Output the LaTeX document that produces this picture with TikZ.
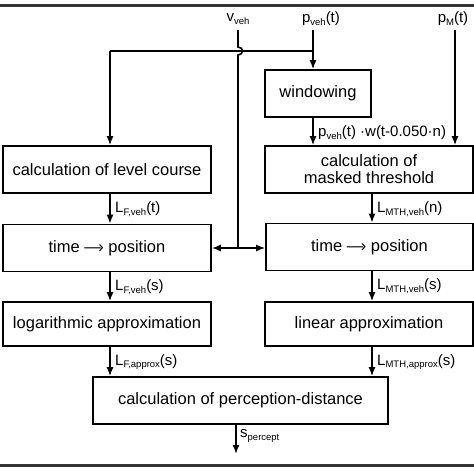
\documentclass[tikz,border=0pt]{standalone}
\usepackage{fontspec}
\setmainfont{Liberation Sans}
\usetikzlibrary{arrows.meta}
\newcommand\lsub[1]{\raisebox{-2.5pt}{\fontsize{9.5}{10}\selectfont #1}}
\begin{document}
\begin{tikzpicture}[x=1pt,y=-1pt,
  box/.style={draw,line width=1.6pt,inner sep=0pt,minimum height=47pt,align=center,font=\fontsize{16.5}{19}\selectfont},
  lab/.style={inner sep=0pt,anchor=west,font=\fontsize{15}{18}\selectfont},
  con/.style={line width=1.6pt,-{Latex[length=9pt,width=7pt]}},
  ln/.style={line width=1.6pt},
  frame/.style={line width=3pt,draw=black!80}]
\useasboundingbox (0,0) rectangle (474,474);
\draw[frame] (0,5) -- (474,5);
\draw[frame] (0,465) -- (474,465);
% boxes
\node[box,minimum width=106pt] (win) at (318,93.5) {windowing};
\node[box,minimum width=208pt] (calc) at (107,169.5) {calculation of level course};
\node[box,minimum width=208pt] (mask) at (369,169.5) {calculation of\\[-2pt]masked threshold};
\node[box,minimum width=208pt] (tpL) at (107,248) {time —\kern-0.15em› position};
\node[box,minimum width=207pt] (tpR) at (369.5,247) {time —\kern-0.15em› position};
\node[box,minimum width=208pt,minimum height=44pt] (logA) at (107,324) {logarithmic approximation};
\node[box,minimum width=208pt,minimum height=44pt] (linA) at (369,324) {linear approximation};
\node[box,minimum width=295pt] (perc) at (240.5,400.5) {calculation of perception-distance};
% input labels
\node[lab,anchor=center] (vveh) at (238,19) {v\lsub{veh}};
\node[lab,anchor=center] (pveh) at (321,19) {p\lsub{veh}(t)};
\node[lab,anchor=center] (pM) at (453,19) {p\lsub{M}(t)};
% coordinates
\coordinate (vtop) at (238,30);
\coordinate (hopa) at (238,47);
\coordinate (hopb) at (238,55);
\coordinate (split) at (238,248);
\coordinate (ptop) at (313,30);
\coordinate (pbr) at (313,51);
\coordinate (lcol) at (110,51);
\coordinate (mtop) at (455,30);
\coordinate (rcol) at (372,0);
\coordinate (scol) at (236,0);
\coordinate (send) at (236,454);
% connectors
\draw[con] (ptop) -- (win.north -| ptop);
\draw[ln] (pbr) -- (lcol);
\draw[con] (lcol) -- (calc.north -| lcol);
\draw[con] (win.south -| ptop) -- (mask.north -| ptop);
\draw[con] (mtop) -- (mask.north -| mtop);
\draw[ln] (vtop) -- (hopa) .. controls (244,47) and (244,55) .. (hopb) -- (split);
\draw[con] (split) -- (tpL.east |- split);
\draw[con] (split) -- (tpR.west |- split);
\draw[con] (calc.south -| lcol) -- (tpL.north -| lcol);
\draw[con] (tpL.south -| lcol) -- (logA.north -| lcol);
\draw[con] (logA.south -| lcol) -- (perc.north -| lcol);
\draw[con] (mask.south -| rcol) -- (tpR.north -| rcol);
\draw[con] (tpR.south -| rcol) -- (linA.north -| rcol);
\draw[con] (linA.south -| rcol) -- (perc.north -| rcol);
\draw[con] (perc.south -| scol) -- (send);
% connector labels
\node[lab] (l1) at (318,133) {p\lsub{veh}(t) ·w(t-0.050·n)};
\node[lab] (l2) at (115,209) {L\lsub{F,veh}(t)};
\node[lab] (l3) at (377,209) {L\lsub{MTH,veh}(n)};
\node[lab] (l4) at (115,287) {L\lsub{F,veh}(s)};
\node[lab] (l5) at (377,286) {L\lsub{MTH,veh}(s)};
\node[lab] (l6) at (115,362) {L\lsub{F,approx}(s)};
\node[lab] (l7) at (377,362) {L\lsub{MTH,approx}(s)};
\node[lab] (l8) at (240,436) {s\lsub{percept}};
\end{tikzpicture}
\end{document}
